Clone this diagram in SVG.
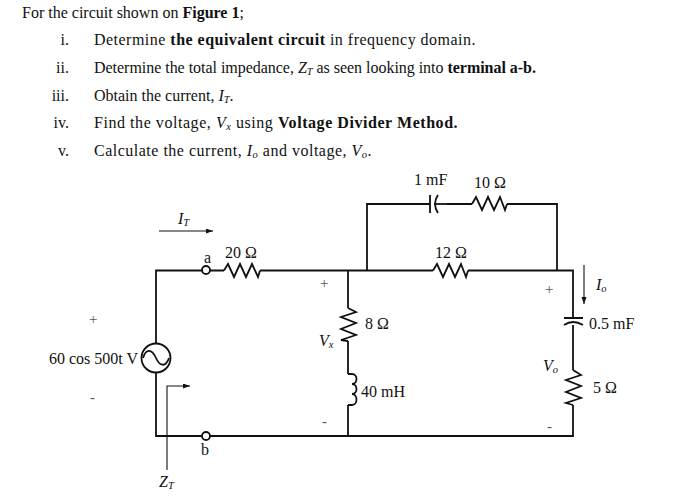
<svg xmlns="http://www.w3.org/2000/svg" width="683" height="500" viewBox="0 0 683 500">
<style>
text{font-family:"Liberation Serif","Times New Roman",serif;font-size:16px;fill:#111}
.b{font-weight:bold}.i{font-style:italic}.sub{font-size:10.5px;font-style:italic}
.e{text-anchor:end}
.w{fill:none;stroke:#111;stroke-width:1.8}
.t{fill:none;stroke:#111;stroke-width:1.1}
.o{fill:#fff;stroke:#111;stroke-width:1.8}
.s{fill:#555;font-size:15px}
</style>
<defs>
<marker id="ah" markerWidth="8" markerHeight="6" refX="7" refY="2.5" orient="auto" markerUnits="userSpaceOnUse"><path d="M0 0L7 2.5L0 5Z" fill="#111"/></marker>
</defs>
<g id="question">
<text x="22" y="18">For the circuit shown on <tspan class="b">Figure 1</tspan>;</text>
<text class="e" x="69" y="45">i.</text>
<text x="94" y="45" letter-spacing=".48">Determine <tspan class="b">the equivalent circuit</tspan> in frequency domain.</text>
<text class="e" x="69" y="73">ii.</text>
<text x="94" y="73" letter-spacing="-.03">Determine the total impedance, <tspan class="i">Z<tspan class="sub" dy="2">T</tspan></tspan><tspan dy="-2"> as seen looking into </tspan><tspan class="b">terminal a-b.</tspan></text>
<text class="e" x="69" y="101">iii.</text>
<text x="94" y="101">Obtain the current, <tspan class="i">I<tspan class="sub" dy="2">T</tspan></tspan><tspan dy="-2">.</tspan></text>
<text class="e" x="69" y="128">iv.</text>
<text x="94" y="128" letter-spacing=".55">Find the voltage, <tspan class="i">V<tspan class="sub" dy="2">x</tspan></tspan><tspan dy="-2"> using </tspan><tspan class="b">Voltage Divider Method.</tspan></text>
<text class="e" x="69" y="156">v.</text>
<text x="94" y="156" letter-spacing=".5">Calculate the current, <tspan class="i">I<tspan class="sub" dy="2">o</tspan></tspan><tspan dy="-2"> and voltage, </tspan><tspan class="i">V<tspan class="sub" dy="2">o</tspan></tspan><tspan dy="-2">.</tspan></text>
</g>
<g id="connectors">
<path class="w" d="M156 344V270.5H202M210 270.5H224M260 270.5H433M468 270.5H573V318M573 325V370M573 405V436H156V372"/>
<path class="w" d="M367 270.5V204H430M447 204H472M507 204H557V270.5"/>
<path class="w" d="M348 270.5V308M348 341V374M348 405V436"/>
<path class="t" marker-end="url(#ah)" d="M159 231H213"/>
<path class="t" marker-end="url(#ah)" d="M167 470V386H190"/>
<path class="t" marker-end="url(#ah)" d="M584 265V304"/>
</g>
<g id="source"><circle class="o" cx="156" cy="358" r="14.5"/><path class="w" d="M143 358C146 348 152 349 156 358S166 367 169 358"/><text x="49" y="364">60 cos 500t V</text><text class="s" x="89" y="324">+</text><text class="s" x="90" y="402">-</text></g>
<g id="terminal-a"><circle class="o" cx="206" cy="270" r="4"/><text x="204" y="263">a</text></g>
<g id="terminal-b"><circle class="o" cx="206" cy="436" r="4"/><text x="201" y="455">b</text></g>
<g id="r20"><path class="w" d="M224 270.5L228 264L234 277L240 264L246 277L252 264L258 277L260 270.5"/><text x="225" y="258">20 Ω</text></g>
<g id="r12"><path class="w" d="M433 270.5L437 264L443 277L449 264L455 277L461 264L466 277L468 270.5"/><text x="435" y="258">12 Ω</text></g>
<g id="c1"><path class="w" d="M430 195V213M438 195Q432 204 438 213"/><path class="w" d="M434 204H447"/><text x="414" y="185">1 mF</text></g>
<g id="r10"><path class="w" d="M472 204L476 197L482 210L488 197L494 210L500 197L505 210L507 204"/><text x="474" y="188">10 Ω</text></g>
<g id="r8"><path class="w" d="M348 308L356 312L341 317L356 323L341 329L356 335L341 340L348 341"/><text x="365" y="329">8 Ω</text></g>
<g id="l40"><path class="w" d="M348 374H352C358 374 358 384 352 384C358 384 358 394 352 394C358 394 358 405 352 405H348"/><text x="361" y="397">40 mH</text></g>
<g id="c05"><path class="w" d="M564 318H583M564 325Q573 319 583 325"/><text x="589" y="329">0.5 mF</text></g>
<g id="r5"><path class="w" d="M573 370L581 375L566 380L581 386L566 392L581 398L566 403L573 405"/><text x="593" y="393">5 Ω</text></g>
<g id="labels">
<text class="i" x="178" y="224">I<tspan class="sub" dy="2">T</tspan></text>
<text class="i" x="159" y="487">Z<tspan class="sub" dy="2">T</tspan></text>
<text class="i" x="596" y="290">I<tspan class="sub" dy="2">o</tspan></text>
<text class="i" x="319" y="346">V<tspan class="sub" dy="2">x</tspan></text>
<text class="i" x="543" y="371">V<tspan class="sub" dy="2">o</tspan></text>
<text class="s" x="320" y="288">+</text>
<text class="s" x="322" y="426">-</text>
<text class="s" x="545" y="294">+</text>
<text class="s" x="547" y="431">-</text>
</g>
</svg>
